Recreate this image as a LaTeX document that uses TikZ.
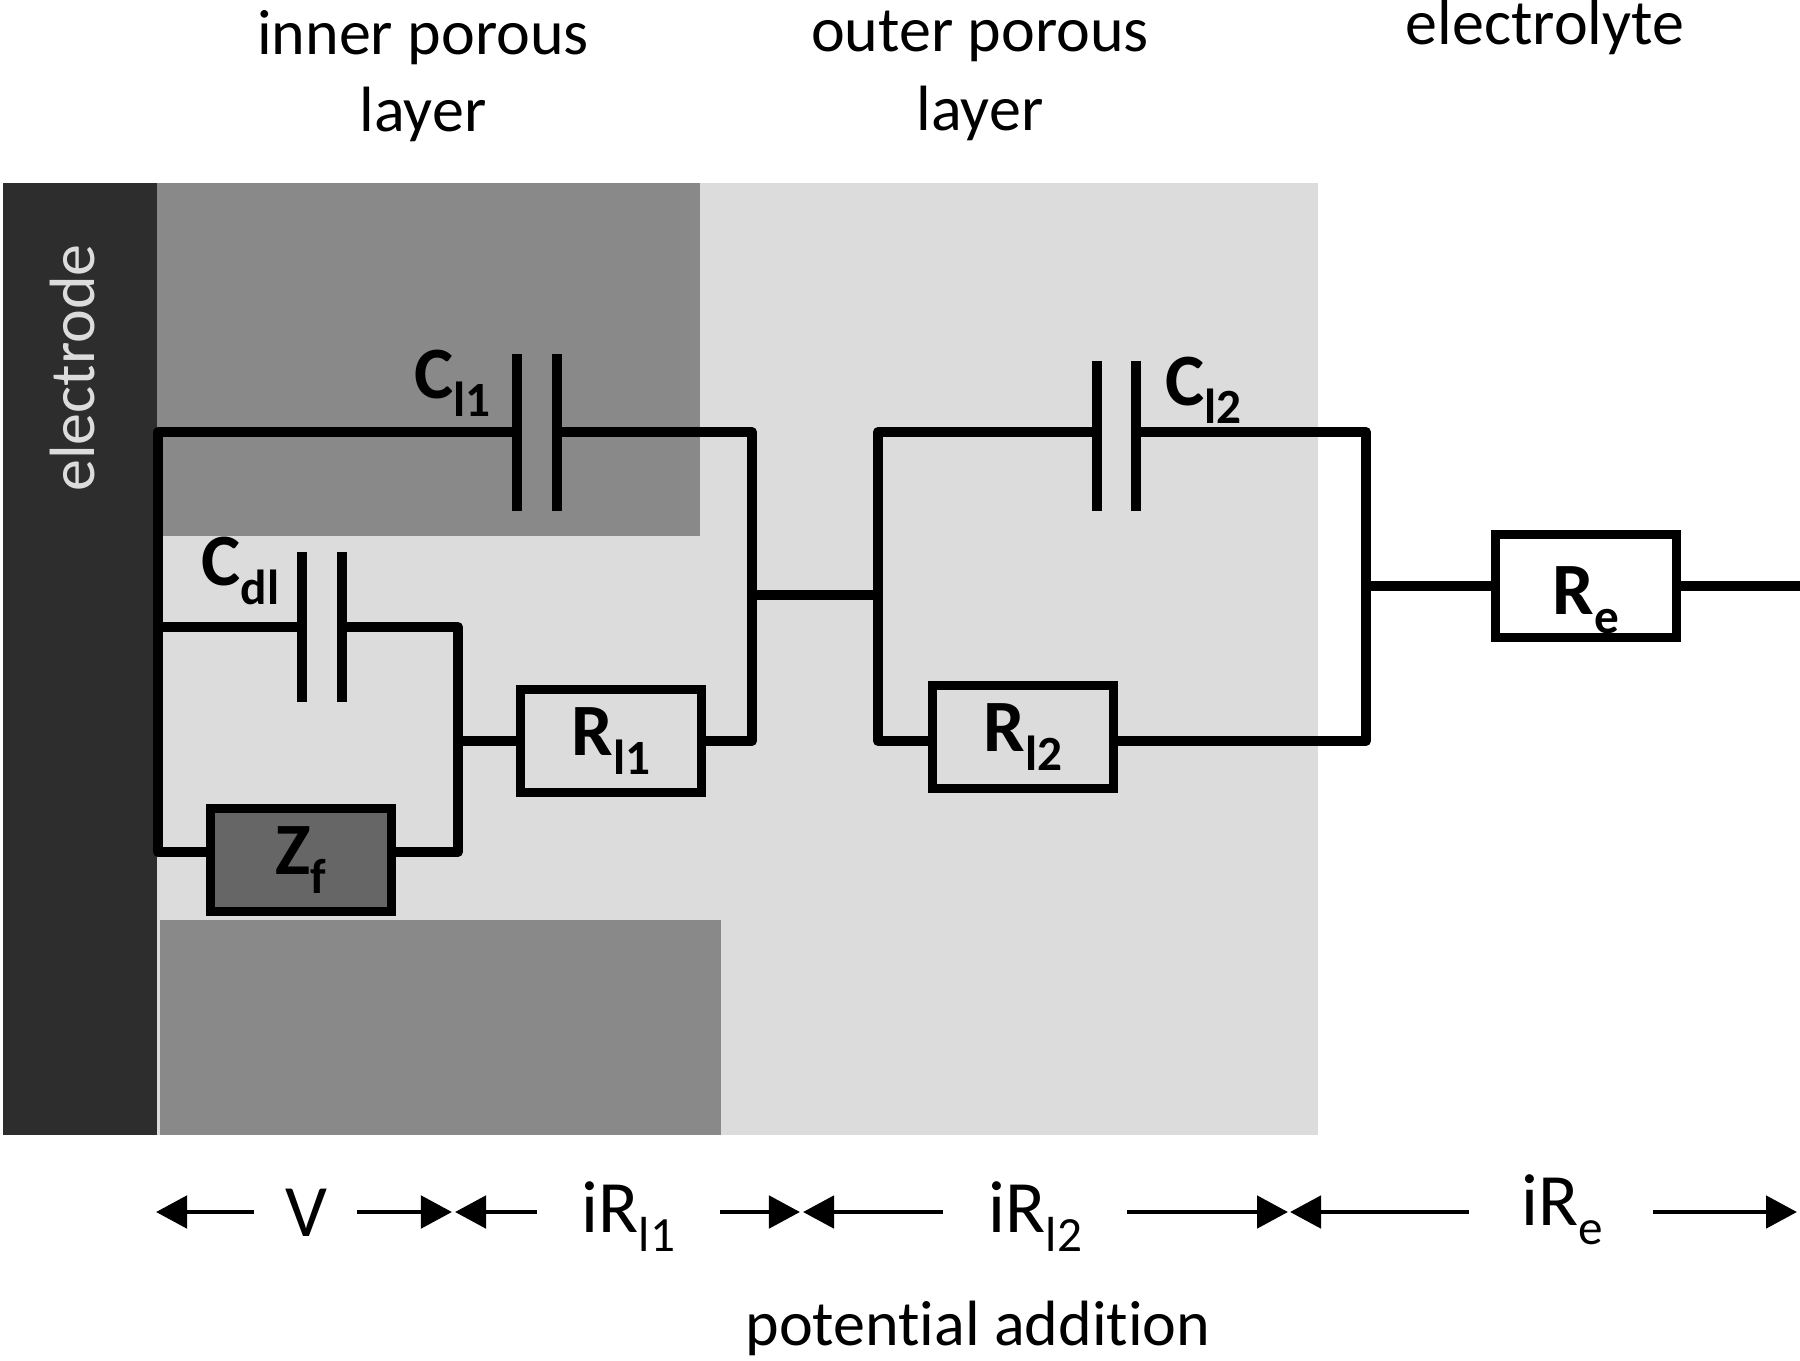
\documentclass[tikz,border=0pt]{standalone}
\usepackage{fontspec}
\setmainfont[Ligatures=CommonOff]{Carlito}
\usetikzlibrary{arrows.meta}
\definecolor{elecgray}{HTML}{2D2D2D}
\definecolor{innergray}{HTML}{898989}
\definecolor{outergray}{HTML}{DCDCDC}
\definecolor{zfgray}{HTML}{666666}
\newcommand{\bigtext}{\fontsize{21}{25}\selectfont}
\newcommand{\midtext}{\fontsize{18.2}{22}\selectfont}
\newcommand{\subtext}[1]{\raisebox{-5.4pt}{\fontsize{14}{14}\selectfont #1}}
\tikzset{
wire/.style={line width=2.8pt,line join=round},
elbox/.style={draw,line width=2.8pt,minimum width=1.81cm,minimum height=1.03cm,inner sep=0pt,font=\bigtext\bfseries},
plate/.style={fill=black,inner sep=0pt,minimum width=2.8pt,minimum height=#1},
complabel/.style={anchor=base west,inner sep=0pt,font=\bigtext\bfseries},
toplabel/.style={anchor=base,inner sep=0pt,font=\midtext},
potlabel/.style={anchor=base west,inner sep=0pt,font=\bigtext},
potarrow/.style={line width=1.4pt,-{Triangle[length=0.31cm,width=0.32cm]}}
}
\begin{document}
\begin{tikzpicture}[x=0.01cm,y=-0.01cm]
\useasboundingbox (0,0) rectangle (1800,1360);
% layers
\fill[outergray] (157,183) rectangle (1318,1135);
\fill[innergray] (157,183) rectangle (700,536);
\fill[innergray] (160,920) rectangle (721,1135);
\fill[elecgray] (3,183) rectangle (157,1135);
\node[toplabel,rotate=90,text=outergray] (electrode) at (94,368) {electrode};
\node[toplabel] (innerone) at (423,54) {inner porous};
\node[toplabel] (innertwo) at (423,131) {layer};
\node[toplabel] (outerone) at (980,51) {outer porous};
\node[toplabel] (outertwo) at (980,130) {layer};
\node[toplabel] (electrolyte) at (1545,44) {electrolyte};
\node[toplabel] (addition) at (978,1345) {potential addition};
% parts
\node[plate=157*0.01cm] (cla) at (517,432) {};
\node[plate=157*0.01cm] (clb) at (557,432) {};
\node[plate=150*0.01cm] (cda) at (302,627) {};
\node[plate=150*0.01cm] (cdb) at (342,627) {};
\node[plate=150*0.01cm] (cra) at (1097,436) {};
\node[plate=150*0.01cm] (crb) at (1136,436) {};
\node[elbox,fill=zfgray] (zf) at (301,860) {Z\subtext{f}};
\node[elbox] (rla) at (611,741) {R\subtext{l1}};
\node[elbox] (rlb) at (1023,737) {R\subtext{l2}};
\node[elbox,text height=0.56cm,text depth=0pt] (re) at (1586,586) {R\subtext{e}};
\node[complabel] (clalabel) at (414,398) {C\subtext{l1}};
\node[complabel] (cdlabel) at (201,585) {C\subtext{dl}};
\node[complabel] (crlabel) at (1165,405) {C\subtext{l2}};
% wires
\coordinate (busl) at (158,627);
\coordinate (junca) at (458,741);
\coordinate (juncb) at (752,595);
\coordinate (juncc) at (878,595);
\coordinate (juncd) at (1366,586);
\coordinate (free) at (1800,586);
\draw[wire] ([yshift=0.08cm]zf.west) -| (busl) |- (cla.center);
\draw[wire] (busl) -- (cda.center);
\draw[wire] (cdb.center) -| (junca) |- ([yshift=0.08cm]zf.east);
\draw[wire] (junca) -- (rla.west);
\draw[wire] (clb.center) -| (juncb) |- (rla.east);
\draw[wire] (juncb) -- (juncc);
\draw[wire] ([yshift=0.04cm]cra.center) -| (juncc) |- ([yshift=-0.04cm]rlb.west);
\draw[wire] ([yshift=0.04cm]crb.center) -| (juncd) |- ([yshift=-0.04cm]rlb.east);
\draw[wire] (juncd) -- (re.west);
\draw[wire] (re.east) -- (free);
% potential labels
\node[potlabel] (vlabel) at (285,1236) {V};
\node[potlabel] (irlabela) at (581,1232) {iR\subtext{l1}};
\node[potlabel] (irlabelb) at (988,1232) {iR\subtext{l2}};
\node[potlabel] (irlabelc) at (1521,1225) {iR\subtext{e}};
\foreach \name/\x in {pa/156,pb/254,pc/357,pd/452,pe/455,pf/537,pg/720,ph/800,pi/803,pj/943,pk/1127,pl/1288,pm/1290,pn/1469,po/1653,pp/1797} {
\coordinate (\name) at (\x,1212);
}
\foreach \from/\to in {pb/pa,pc/pd,pf/pe,pg/ph,pj/pi,pk/pl,pn/pm,po/pp} {
\draw[potarrow] (\from) -- (\to);
}
\end{tikzpicture}
\end{document}
